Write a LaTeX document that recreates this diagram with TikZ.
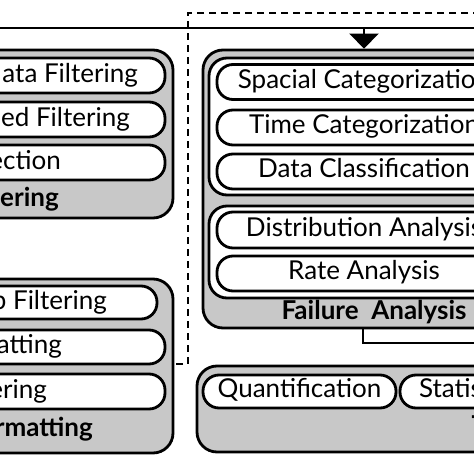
\documentclass[tikz,border=0pt]{standalone}
\usepackage{fontspec}
\setmainfont{Lato}
\usetikzlibrary{arrows.meta}
\definecolor{boxgray}{RGB}{200,200,200}

\begin{document}
\begin{tikzpicture}[x=1pt, y=-1pt,
        groupbox/.style={rectangle, draw=black, fill=boxgray, line width=2.8pt, rounded corners=20pt, inner sep=0pt},
        subbox/.style={rectangle, draw=black, fill=white, line width=2.8pt, rounded corners=18pt, inner sep=0pt},
        pill/.style={rectangle, draw=black, fill=white, line width=2.8pt, rounded corners=16pt, inner sep=0pt, minimum height=35pt,
            font=\fontsize{26}{30}\selectfont, text height=18pt, text depth=6pt},
        pilltext/.style={inner sep=0pt, font=\fontsize{26}{30}\selectfont, text height=18pt, text depth=6pt},
        grouptext/.style={inner sep=0pt, font=\fontsize{26}{30}\selectfont\bfseries, text height=18pt, text depth=6pt},
        wire/.style={draw=black, line width=2.8pt},
        ]
            \useasboundingbox (0,0) rectangle (474,474);

            % filtering group
            \node[groupbox, minimum width=203pt, minimum height=168pt] at(71.5,134) (filt) {};
            \node[pill, minimum width=185pt] at(72.5,75.5) (f1) {};
            \node[pill, minimum width=185pt] at(72.5,119.5) (f2) {};
            \node[pill, minimum width=185pt] at(72.5,162.5) (f3) {};
            \node[pilltext, anchor=east] at(138,76) (f1t) {ata Filtering};
            \node[pilltext, anchor=east] at(130,120) (f2t) {ed Filtering};
            \node[pilltext, anchor=east] at(61,163) (f3t) {ection};
            \node[grouptext, anchor=east] at(59,200) (filtt) {ering};

            % formatting group
            \node[groupbox, minimum width=203pt, minimum height=174pt] at(71.5,366) (form) {};
            \node[pill, minimum width=177pt, minimum height=33pt] at(68.5,302.5) (m1) {};
            \node[pill, minimum width=185pt, minimum height=34pt] at(72.5,347) (m2) {};
            \node[pill, minimum width=185pt] at(72.5,391.5) (m3) {};
            \node[pilltext, anchor=east] at(107,303) (m1t) {p Filtering};
            \node[pilltext, anchor=east] at(62,347) (m2t) {atting};
            \node[pilltext, anchor=east] at(47,392) (m3t) {ering};
            \node[grouptext, anchor=east] at(93,430) (formt) {rmatting};

            % failure analysis
            \node[groupbox, minimum width=322pt, minimum height=278pt] at(364,189) (fa) {};
            \node[subbox, minimum width=310pt, minimum height=137pt] at(364,126.5) (cat) {};
            \node[pill, minimum width=294pt] at(364,82) (c1) {Spacial Categorization};
            \node[pill, minimum width=294pt] at(364,127.5) (c2) {Time Categorization};
            \node[pill, minimum width=294pt] at(364,171.5) (c3) {Data Classification};
            \node[subbox, minimum width=310pt, minimum height=92pt] at(364,252) (ana) {};
            \node[pill, minimum width=294pt, minimum height=36pt] at(364,230) (a1) {Distribution Analysis};
            \node[pill, minimum width=294pt] at(364,273.5) (a2) {Rate Analysis};
            \node[grouptext] at(374,313) (fat) {Failure\ \ Analysis};

            % bottom group
            \node[groupbox, minimum width=363pt, minimum height=86pt] at(378.5,409) (res) {};
            \node[pill, minimum width=193pt, minimum height=33pt] at(299.5,391.5) (r1) {Quantification};
            \node[pill, minimum width=200pt, minimum height=33pt, text width=162pt, align=left] at(500,391.5) (r2) {Statistics};
            \node[grouptext, anchor=west] at(471.5,428) (rest) {T};

            % connectors
            \coordinate (topL) at (-5,28);
            \coordinate (topR) at (480,28);
            \coordinate (split) at (364,28);
            \draw[wire] (topL) -- (topR) ;
            \draw[wire, -{Triangle[width=29pt,length=15pt]}] (split) -- (fa.north) ;

            \coordinate (dashR) at (480,13);
            \coordinate (dashD) at (188,364);
            \draw[wire, dash pattern=on 7pt off 5pt] (dashR) -| (dashD) -- (form.east |- dashD) ;

            \coordinate (faout) at (480,343);
            \draw[wire] (fa.south -| 363,0) |- (faout) ;
\end{tikzpicture}
\end{document}
